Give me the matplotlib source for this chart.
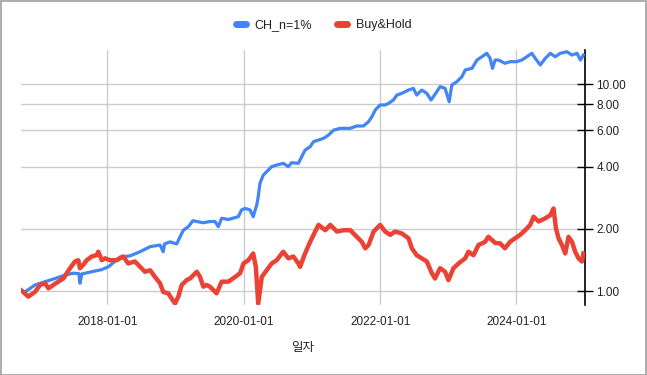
import matplotlib
matplotlib.use("Agg")
import matplotlib.pyplot as plt
from matplotlib.patches import Rectangle
from matplotlib.lines import Line2D
import pandas as pd

# ---------------- data ----------------
ch_dates = [
    "2016-09-25", "2016-10-16", "2016-12-09", "2017-02-01", "2017-03-27", "2017-05-19",
    "2017-07-02", "2017-08-01", "2017-08-07", "2017-08-17", "2017-10-09", "2017-12-02",
    "2018-01-06", "2018-02-01", "2018-03-09", "2018-05-02", "2018-06-25", "2018-08-18",
    "2018-10-10", "2018-10-27", "2018-11-03", "2018-12-03", "2019-01-07", "2019-01-25",
    "2019-02-12", "2019-03-11", "2019-04-04", "2019-04-25", "2019-05-30", "2019-07-04",
    "2019-07-31", "2019-08-18", "2019-09-05", "2019-10-11", "2019-12-03", "2019-12-21",
    "2020-01-08", "2020-02-04", "2020-02-21", "2020-03-11", "2020-03-19", "2020-03-28",
    "2020-04-15", "2020-05-03", "2020-05-30", "2020-06-26", "2020-07-31", "2020-08-27",
    "2020-09-14", "2020-10-20", "2020-11-07", "2020-11-25", "2020-12-22", "2021-01-09",
    "2021-02-05", "2021-03-04", "2021-03-31", "2021-04-27", "2021-06-02", "2021-07-25",
    "2021-08-29", "2021-10-04", "2021-10-31", "2021-11-18", "2021-12-06", "2022-01-01",
    "2022-01-28", "2022-02-15", "2022-03-13", "2022-04-01", "2022-04-27", "2022-06-02",
    "2022-06-28", "2022-07-16", "2022-08-12", "2022-09-08", "2022-10-01", "2022-10-22",
    "2022-11-18", "2022-12-15", "2023-01-06", "2023-01-20", "2023-02-16", "2023-03-15",
    "2023-04-02", "2023-05-08", "2023-06-04", "2023-06-30", "2023-07-27", "2023-08-13",
    "2023-08-26", "2023-09-09", "2023-09-27", "2023-11-01", "2023-11-28", "2024-01-03",
    "2024-01-30", "2024-02-26", "2024-03-24", "2024-04-11", "2024-05-08", "2024-06-04",
    "2024-07-01", "2024-07-27", "2024-08-23", "2024-09-28", "2024-10-25", "2024-11-21",
    "2024-12-09", "2024-12-25",
]
ch_values = [
    1.01, 0.99, 1.07, 1.11, 1.15, 1.195,
    1.22, 1.215, 1.09, 1.21, 1.24, 1.27,
    1.31, 1.37, 1.46, 1.48, 1.55, 1.64,
    1.67, 1.55, 1.69, 1.73, 1.69, 1.83,
    1.97, 2.05, 2.19, 2.17, 2.14, 2.17,
    2.17, 2.05, 2.25, 2.22, 2.29, 2.47,
    2.51, 2.47, 2.29, 2.61, 2.86, 3.32,
    3.64, 3.78, 4.00, 4.07, 4.15, 4.00,
    4.18, 4.15, 4.47, 4.81, 4.99, 5.28,
    5.38, 5.48, 5.69, 6.01, 6.13, 6.13,
    6.29, 6.29, 6.60, 6.98, 7.52, 7.95,
    7.95, 8.10, 8.40, 8.88, 9.05, 9.39,
    9.57, 8.88, 9.39, 9.05, 8.40, 8.95,
    9.75, 9.57, 8.24, 9.93, 10.30, 10.89,
    11.74, 11.96, 13.12, 13.61, 14.14, 13.37,
    11.96, 13.12, 13.12, 12.65, 12.88, 12.88,
    13.12, 13.61, 14.14, 13.37, 12.41, 13.37,
    14.14, 13.61, 14.14, 14.39, 13.87, 14.14,
    13.12, 13.87,
]

bh_dates = [
    "2016-09-25", "2016-11-03", "2016-12-09", "2017-01-05", "2017-02-01", "2017-02-19",
    "2017-03-17", "2017-04-13", "2017-05-10", "2017-05-28", "2017-06-15", "2017-07-11",
    "2017-07-29", "2017-08-07", "2017-08-25", "2017-09-12", "2017-10-09", "2017-11-04",
    "2017-11-13", "2017-12-02", "2017-12-19", "2018-01-15", "2018-02-20", "2018-03-27",
    "2018-04-22", "2018-05-28", "2018-06-25", "2018-07-21", "2018-08-18", "2018-09-13",
    "2018-10-10", "2018-10-27", "2018-11-23", "2018-12-11", "2018-12-29", "2019-01-16",
    "2019-02-03", "2019-03-02", "2019-03-20", "2019-04-07", "2019-04-25", "2019-05-12",
    "2019-05-30", "2019-06-17", "2019-07-04", "2019-08-09", "2019-09-05", "2019-10-11",
    "2019-11-16", "2019-12-13", "2019-12-31", "2020-01-26", "2020-02-21", "2020-03-06",
    "2020-03-19", "2020-04-07", "2020-05-03", "2020-05-30", "2020-06-26", "2020-07-31",
    "2020-08-27", "2020-09-23", "2020-10-20", "2020-10-29", "2020-11-25", "2020-12-22",
    "2021-01-18", "2021-02-05", "2021-03-13", "2021-04-09", "2021-05-15", "2021-06-19",
    "2021-07-25", "2021-08-29", "2021-09-25", "2021-10-13", "2021-10-31", "2021-11-27",
    "2022-01-01", "2022-01-28", "2022-02-24", "2022-03-22", "2022-04-27", "2022-06-02",
    "2022-06-20", "2022-07-16", "2022-08-12", "2022-09-08", "2022-10-05", "2022-10-22",
    "2022-11-18", "2022-12-15", "2023-01-02", "2023-01-29", "2023-02-25", "2023-04-02",
    "2023-04-19", "2023-05-16", "2023-06-12", "2023-07-17", "2023-08-04", "2023-09-09",
    "2023-10-06", "2023-11-01", "2023-11-28", "2023-12-25", "2024-01-21", "2024-02-17",
    "2024-03-15", "2024-04-02", "2024-04-29", "2024-06-04", "2024-07-01", "2024-07-18",
    "2024-07-31", "2024-08-14", "2024-09-01", "2024-09-19", "2024-10-06", "2024-10-25",
    "2024-11-11", "2024-11-29", "2024-12-17", "2024-12-25",
]
bh_values = [
    1.01, 0.94, 0.99, 1.07, 1.09, 1.03,
    1.07, 1.11, 1.15, 1.22, 1.29, 1.39,
    1.41, 1.29, 1.34, 1.41, 1.47, 1.49,
    1.55, 1.41, 1.44, 1.41, 1.41, 1.47,
    1.36, 1.39, 1.31, 1.24, 1.26, 1.17,
    1.09, 0.99, 0.975, 0.92, 0.87, 0.94,
    1.07, 1.13, 1.15, 1.195, 1.24, 1.17,
    1.05, 1.07, 1.05, 0.975, 1.11, 1.11,
    1.17, 1.22, 1.36, 1.41, 1.52, 1.31,
    0.87, 1.17, 1.26, 1.36, 1.41, 1.55,
    1.44, 1.47, 1.36, 1.31, 1.52, 1.73,
    1.94, 2.09, 1.97, 2.09, 1.94, 1.97,
    1.97, 1.83, 1.73, 1.61, 1.67, 1.94,
    2.09, 1.94, 1.87, 1.94, 1.90, 1.80,
    1.61, 1.49, 1.44, 1.39, 1.22, 1.15,
    1.29, 1.24, 1.13, 1.29, 1.36, 1.44,
    1.55, 1.49, 1.67, 1.73, 1.83, 1.71,
    1.70, 1.61, 1.73, 1.80, 1.87, 1.97,
    2.09, 2.29, 2.17, 2.25, 2.33, 2.51,
    2.01, 1.80, 1.67, 1.52, 1.83, 1.73,
    1.55, 1.44, 1.39, 1.52,
]

series_names = ["CH_n=1%", "Buy&Hold"]
y_ticks = [1, 2, 4, 6, 8, 10]
y_tick_labels = ["1.00", "2.00", "4.00", "6.00", "8.00", "10.00"]
x_ticks = ["2018-01-01", "2020-01-01", "2022-01-01", "2024-01-01"]
x_label = "일자"

# ---------------- style ----------------
BLUE = "#4285F4"
RED = "#EA4335"
GRID = "#cccccc"
TXT = "#222222"
plt.rcParams["font.family"] = ["Liberation Sans", "Noto Sans CJK KR", "DejaVu Sans"]

fig = plt.figure(figsize=(6.47, 3.75), dpi=100)
ax = fig.add_axes([21 / 647, 1 - 305 / 375, (584.7 - 21) / 647, (305 - 50) / 375])

ax.plot(pd.to_datetime(ch_dates), ch_values, color=BLUE, lw=2.3, solid_joinstyle="round", zorder=3)
ax.plot(pd.to_datetime(bh_dates), bh_values, color=RED, lw=3.2, solid_joinstyle="round", zorder=4)

ax.set_yscale("log")
ax.set_ylim(0.856, 14.67)
ax.set_xlim(pd.Timestamp("2016-09-25"), pd.Timestamp("2025-01-01"))

ax.yaxis.set_minor_locator(matplotlib.ticker.NullLocator())
ax.set_yticks(y_ticks)
ax.set_yticklabels(y_tick_labels)
ax.yaxis.tick_right()
ax.tick_params(axis="y", which="major", direction="inout", length=11, width=1, color="black",
               labelsize=8.5, labelcolor=TXT, pad=3)

ax.set_xticks(pd.to_datetime(x_ticks))
ax.set_xticklabels(x_ticks)
ax.tick_params(axis="x", length=0, labelsize=8.5, labelcolor=TXT, pad=8)

ax.grid(True, color=GRID, lw=1)
ax.set_axisbelow(True)
for s in ["left", "top", "bottom"]:
    ax.spines[s].set_visible(False)
ax.spines["right"].set_color("black")
ax.spines["right"].set_linewidth(1.2)

ax.set_xlabel(x_label, fontsize=9, color=TXT, labelpad=10)

handles = [Line2D([0], [0], color=BLUE, lw=5, solid_capstyle="round"),
           Line2D([0], [0], color=RED, lw=5, solid_capstyle="round")]
fig.legend(handles, series_names, loc="center", bbox_to_anchor=(0.5, 1 - 25 / 375),
           ncol=2, frameon=False, fontsize=9, handlelength=0.8, handletextpad=0.7,
           columnspacing=2.0, labelcolor=TXT)

fig.patches.append(Rectangle((0.5 / 647, 0.5 / 375), 645.5 / 647, 373.5 / 375, transform=fig.transFigure,
                             fill=False, edgecolor="#9e9e9e", lw=1.2))

fig.savefig("out.png", dpi=100)
